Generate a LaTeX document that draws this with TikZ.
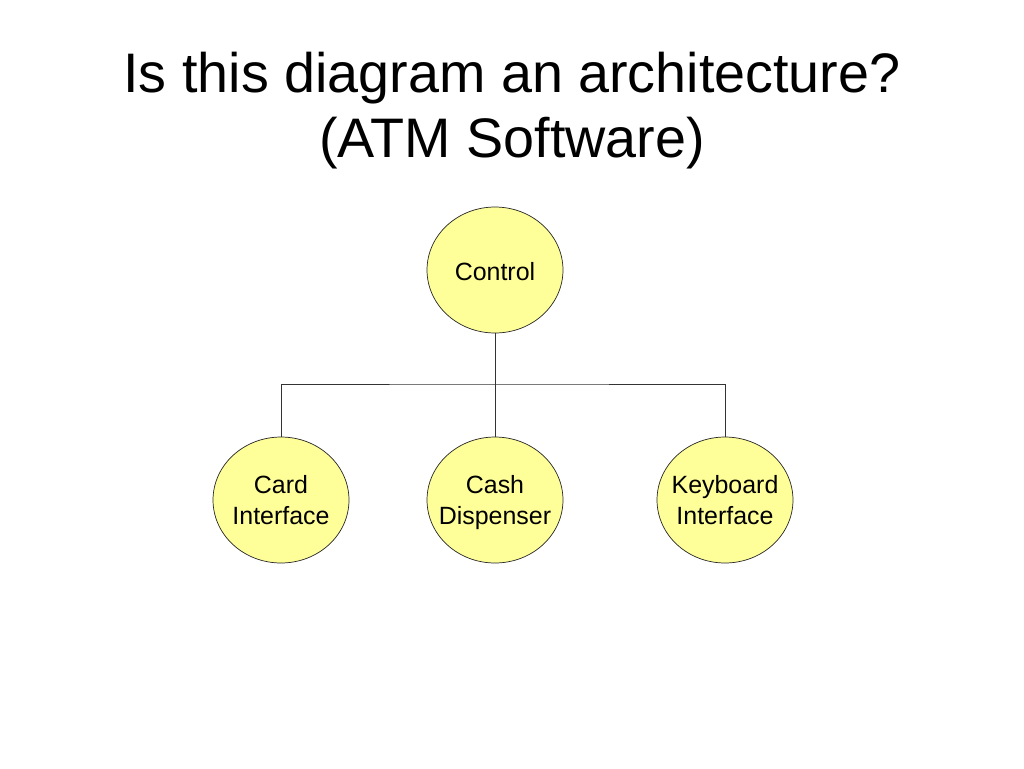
\documentclass[tikz,border=0pt]{standalone}
\usepackage{fontspec}
\setmainfont{Liberation Sans}
\usepackage{tikz}
\usetikzlibrary{shapes.geometric,positioning}
\definecolor{paleyellow}{RGB}{255,255,153}

\begin{document}
\begin{tikzpicture}[x=0.02cm,y=-0.02cm,thin] \tikzstyle{module}=[ellipse,draw=black!85,fill=paleyellow,minimum width=2.72cm,minimum height=2.52cm,inner xsep=-0.3cm,inner ysep=0pt,align=center,execute at begin node={\rule{0pt}{17pt}},execute at end node=\strut,font=\fontsize{14.2}{17.6}\selectfont]
  \tikzstyle{pair}=[module,execute at begin node={\rule{0pt}{33.5pt}}]
  \tikzstyle{heading}=[anchor=base,inner sep=0pt,font=\fontsize{31.7}{36.8}\selectfont]

  \useasboundingbox (0,0) rectangle (1024,768);

  \node[heading] (title1) at (512,92)  {Is this diagram an architecture?};
  \node[heading] (title2) at (512,157) {(ATM Software)};

  \node[module] (ctrl) at (495,270) {Control};
  \node[pair]   (card) at (281,500) {Card\\Interface};
  \node[pair]   (cash) at (495,500) {Cash\\Dispenser};
  \node[pair]   (kbd)  at (725,500) {Keyboard\\Interface};

  \coordinate (bus) at (495,384);

  \draw[black!80] (ctrl) -- (cash);
  \draw[black!80] (card) |- (bus) -| (kbd);
\end{tikzpicture}
\end{document}
